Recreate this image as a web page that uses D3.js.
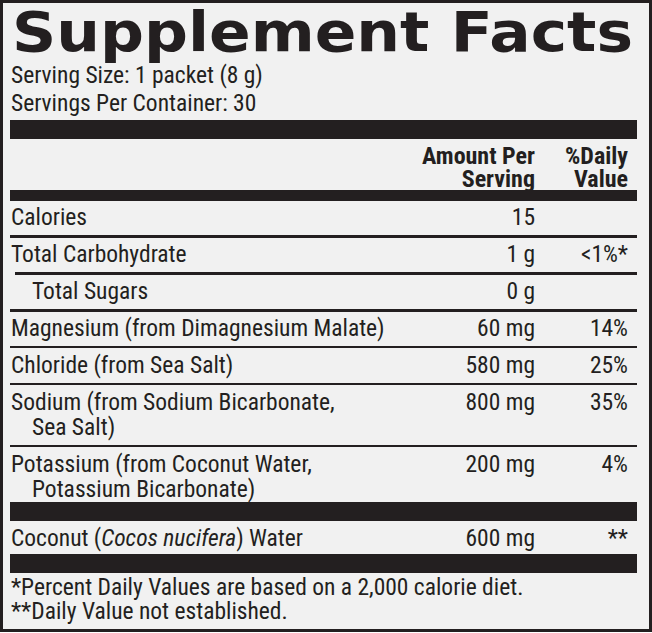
<!DOCTYPE html>
<html><head><meta charset="utf-8">
<script src="https://cdn.jsdelivr.net/npm/d3@7"></script>
<style>body{margin:0;background:#fff}svg{display:block}</style>
</head><body>
<script>
const title = "Supplement Facts";
const servingLines = ["Serving Size: 1 packet (8 g)", "Servings Per Container: 30"];
const headerAmount = ["Amount Per", "Serving"];
const headerDV = ["%Daily", "Value"];
const nutrients = [
  {name:["Calories"], amount:"15", dv:""},
  {name:["Total Carbohydrate"], amount:"1 g", dv:"<1%*"},
  {name:["Total Sugars"], amount:"0 g", dv:"", indent:true},
  {name:["Magnesium (from Dimagnesium Malate)"], amount:"60 mg", dv:"14%"},
  {name:["Chloride (from Sea Salt)"], amount:"580 mg", dv:"25%"},
  {name:["Sodium (from Sodium Bicarbonate,","Sea Salt)"], amount:"800 mg", dv:"35%"},
  {name:["Potassium (from Coconut Water,","Potassium Bicarbonate)"], amount:"200 mg", dv:"4%"}
];
const other = {amount:"600 mg", dv:"**"};
const footnotes = ["*Percent Daily Values are based on a 2,000 calorie diet.", "**Daily Value not established."];

const W=652,H=633, L=10, R=637, ink="#231f20";
const font="'Liberation Sans Narrow','Roboto Condensed',Roboto,sans-serif";
const svg=d3.select("body").append("svg").attr("width",W).attr("height",H);
svg.append("rect").attr("x",1.5).attr("y",1.5).attr("width",W-3).attr("height",H-4).attr("fill","#f1f1f1").attr("stroke",ink).attr("stroke-width",3);
svg.append("text").attr("x",12).attr("y",51).attr("font-family","'DejaVu Sans',sans-serif").attr("font-weight","bold")
  .attr("font-size",56).attr("textLength",621).attr("lengthAdjust","spacingAndGlyphs").attr("fill",ink).text(title);
function txt(x,y,s,o={}){return svg.append("text").attr("x",x).attr("y",y).attr("font-family",font).attr("font-size",o.size||23.5)
  .attr("font-weight",o.bold?"bold":"normal").attr("text-anchor",o.anchor||"start").attr("fill",ink).text(s);}
function bar(y,h,x0=L){svg.append("rect").attr("x",x0).attr("y",y).attr("width",R-x0).attr("height",h).attr("fill",ink);}
servingLines.forEach((s,i)=>txt(11,83+i*28,s));
bar(120,19);
const aX=535, dX=628;
headerAmount.forEach((s,i)=>txt(aX,164+i*23,s,{bold:true,anchor:"end",size:24}));
headerDV.forEach((s,i)=>txt(dX,164+i*23,s,{bold:true,anchor:"end",size:24}));
bar(190,11);
let y=201;
const lineH=25;
nutrients.forEach((d,i)=>{
  const base=y+24;
  d.name.forEach((s,j)=>txt(d.indent||j>0?32:11,base+j*lineH,s));
  txt(aX,base,d.amount,{anchor:"end"});
  txt(dX,base,d.dv,{anchor:"end"});
  y+= 31 + (d.name.length-1)*lineH + 6;
  if(i<nutrients.length-1){ bar(y-3,i<3?3:2,i===1?15:L); }
});
bar(502,19);
const ct=svg.append("text").attr("x",11).attr("y",546).attr("font-family",font).attr("font-size",23.5).attr("fill",ink);
ct.append("tspan").text("Coconut (");
ct.append("tspan").attr("font-style","italic").text("Cocos nucifera");
ct.append("tspan").text(") Water");
txt(aX,546,other.amount,{anchor:"end"});
txt(dX,546,other.dv,{anchor:"end"});
bar(554,19);
footnotes.forEach((s,i)=>txt(11,595+i*24,s));
</script>
</body></html>
